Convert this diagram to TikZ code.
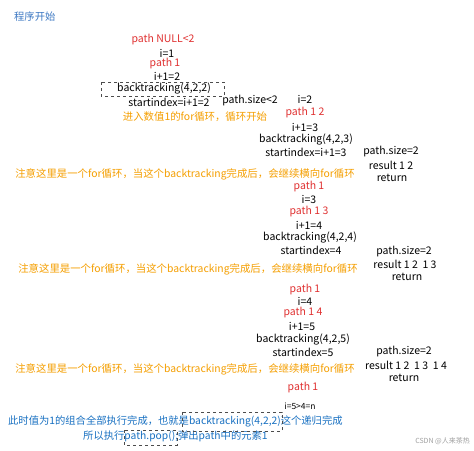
\documentclass[tikz,border=0pt]{standalone}
\usepackage{fontspec}
\setmainfont{Noto Sans CJK SC}
\definecolor{cred}{HTML}{E03131}
\definecolor{corange}{HTML}{F59F00}
\definecolor{cblue}{HTML}{1971C2}
\definecolor{ctitle}{HTML}{3C78C3}
\definecolor{cgray}{HTML}{A0A0A0}
\begin{document}
\begin{tikzpicture}[x=1pt,y=-1pt,
  every node/.style={inner sep=0pt,font=\fontsize{10.5}{12}\selectfont},
  blk/.style={text=black},
  redt/.style={text=cred},
  note/.style={text=corange,font=\fontsize{10.4}{12}\selectfont},
  bluet/.style={text=cblue,font=\fontsize{10.3}{12}\selectfont},
  dbox/.style={draw=black!70,dashed,line width=0.6pt}]
\useasboundingbox[fill=white] (0,0) rectangle (474,450);
\node[text=ctitle,anchor=west,font=\fontsize{10.3}{12}\selectfont] (start) at (14,17) {程序开始};
% level 1
\node[redt] (p0) at (163,40) {path NULL<2};
\node[blk] (i1) at (167,53) {i=1};
\node[redt] (p1) at (165,64) {path 1};
\node[blk] (i1b) at (167,76) {i+1=2};
\node[blk] (bt1) at (164,89) {backtracking(4,2,2)};
\draw[dbox] (101,82) rectangle (224,96);
\node[blk] (si1) at (169,102) {startindex=i+1=2};
\node[blk] (ps1) at (250,101) {path.size<2};
\node[note] (n0) at (195,117) {进入数值1的for循环，循环开始};
% level 2a
\node[blk] (i2) at (305,99) {i=2};
\node[redt] (p12) at (305,113) {path 1 2};
\node[blk] (i2b) at (305,127) {i+1=3};
\node[blk] (bt2) at (306,140) {backtracking(4,2,3)};
\node[blk] (si2) at (306,152) {startindex=i+1=3};
\node[blk] (r1a) at (391,152) {path.size=2};
\node[blk] (r1b) at (391,165) {result 1 2};
\node[blk] (r1c) at (392,178) {return};
\node[note] (n1) at (185,174) {注意这里是一个for循环，当这个backtracking完成后，会继续横向for循环};
% level 2b
\node[redt] (p1b) at (309,187) {path 1};
\node[blk] (i3) at (309,199) {i=3};
\node[redt] (p13) at (309,212) {path 1 3};
\node[blk] (i3b) at (309,225) {i+1=4};
\node[blk] (bt3) at (310,238) {backtracking(4,2,4)};
\node[blk] (si3) at (311,250) {startindex=4};
\node[blk] (r2a) at (404,252) {path.size=2};
\node[blk] (r2b) at (405,264) {result 1 2\ \ 1 3};
\node[blk] (r2c) at (407,277) {return};
\node[note] (n2) at (188,269) {注意这里是一个for循环，当这个backtracking完成后，会继续横向for循环};
% level 2c
\node[redt] (p1c) at (305,290) {path 1};
\node[blk] (i4) at (305,301) {i=4};
\node[redt] (p14) at (303,313) {path 1 4};
\node[blk] (i4b) at (302,326) {i+1=5};
\node[blk] (bt4) at (303,340) {backtracking(4,2,5)};
\node[blk] (si4) at (303,352) {startindex=5};
\node[blk] (r3a) at (404,352) {path.size=2};
\node[blk] (r3b) at (406,365) {result 1 2\ \ 1 3\ \ 1 4};
\node[blk] (r3d) at (404,378) {return};
\node[note] (n3) at (185,369) {注意这里是一个for循环，当这个backtracking完成后，会继续横向for循环};
% end
\node[redt] (p1d) at (303,388) {path 1};
\node[blk,font=\fontsize{8.5}{10}\selectfont] (i5) at (300,406) {i=5>4=n};
\node[bluet,anchor=west] (b1) at (8,421) {此时值为1的组合全部执行完成，也就是backtracking(4,2,2)这个递归完成};
\node[bluet,anchor=west] (b2) at (83,436) {所以执行path.pop();弹出path中的元素1};
\draw[dbox] (182,412) rectangle (282,431);
\draw[dbox] (124,430) rectangle (177,445);
\node[text=cgray,anchor=east,font=\fontsize{7}{8}\selectfont] (wm) at (470,441) {CSDN @人来茶热};
\end{tikzpicture}
\end{document}
